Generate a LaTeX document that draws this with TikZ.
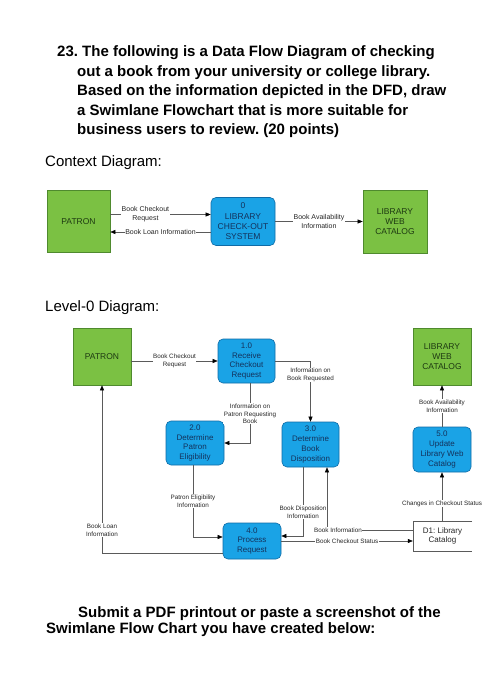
\documentclass[tikz,border=0pt]{standalone}
\usepackage{fontspec}
\setmainfont{Liberation Sans}
\usetikzlibrary{arrows.meta}
\definecolor{extgreen}{HTML}{7BC143}
\definecolor{extborder}{HTML}{4F8A2E}
\definecolor{procblue}{HTML}{1AA3E6}
\definecolor{procborder}{HTML}{0F6BA6}
\definecolor{proctext}{HTML}{14325C}
\definecolor{exttext}{HTML}{1E3A12}
\definecolor{linegray}{HTML}{5A5A5A}
\tikzset{
  ext/.style={draw=extborder, fill=extgreen, line width=0.6pt, text=exttext, align=center, inner sep=0pt},
  proc/.style={draw=procborder, fill=procblue, line width=0.6pt, rounded corners=5pt, text=proctext, align=center, inner sep=0pt},
  cfont/.style={font=\fontsize{8.5}{10.3}\selectfont},
  lfont/.style={font=\fontsize{8}{9.8}\selectfont},
  flow/.style={draw=linegray, line width=0.5pt, -{Triangle[length=5pt,width=4pt,color=black]}},
  lbl/.style={fill=white, inner sep=0.6pt, align=center, text=black!85, font=\fontsize{6.3}{7.7}\selectfont},
  clbl/.style={fill=white, inner sep=0.6pt, align=center, text=black!85, font=\fontsize{7}{9}\selectfont},
  ttl/.style={anchor=base west, inner sep=0pt, font=\fontsize{15}{19.5}\selectfont\bfseries},
  hdr/.style={anchor=base west, inner sep=0pt, font=\fontsize{15}{19.5}\selectfont}
}
\frenchspacing
\begin{document}
\begin{tikzpicture}[x=1pt,y=-1pt]
\useasboundingbox[fill=white] (0,0) rectangle (498,700);

% title
\node[ttl] (t1) at (57,57) {23. The following is a Data Flow Diagram of checking};
\node[ttl] (t2) at (77,76.5) {out a book from your university or college library.};
\node[ttl] (t3) at (77,96) {Based on the information depicted in the DFD, draw};
\node[ttl] (t4) at (77,115.5) {a Swimlane Flowchart that is more suitable for};
\node[ttl] (t5) at (77,135) {business users to review. (20 points)};

\node[hdr] (h1) at (45,167) {Context Diagram:};
\node[hdr] (h2) at (45,311) {Level-0 Diagram:};

% context diagram
\node[ext, cfont, minimum width=63pt, minimum height=62pt] (cpat) at (78.5,221.5) {PATRON};
\node[proc, cfont, minimum width=64pt, minimum height=48pt] (cproc) at (243,221.5) {0\\LIBRARY\\CHECK-OUT\\SYSTEM};
\node[ext, cfont, minimum width=64pt, minimum height=63pt] (cweb) at (395,221.5) {LIBRARY\\WEB\\CATALOG};

\draw[flow] ([yshift=7pt]cpat.east) -- node[clbl, pos=0.35] {Book Checkout\\Request} ([yshift=7pt]cproc.west);
\draw[flow] ([yshift=-10.5pt]cproc.west) -- node[clbl] {Book Loan Information} ([yshift=-10.5pt]cpat.east);
\draw[flow] (cproc.east) -- node[clbl] {Book Availability\\Information} (cweb.west);

% level-0 diagram
\node[ext, cfont, minimum width=58pt, minimum height=57pt] (pat0) at (102,356.5) {PATRON};
\node[ext, cfont, minimum width=58pt, minimum height=57pt] (web0) at (442,356.5) {LIBRARY\\WEB\\CATALOG};
\node[proc, lfont, minimum width=57pt, minimum height=44pt] (p1) at (246.5,361) {1.0\\Receive\\Checkout\\Request};
\node[proc, lfont, minimum width=58pt, minimum height=44pt] (p2) at (195,443) {2.0\\Determine\\Patron\\Eligibility};
\node[proc, lfont, minimum width=57pt, minimum height=45pt] (p3) at (310.5,444.5) {3.0\\Determine\\Book\\Disposition};
\node[proc, lfont, minimum width=58pt, minimum height=36pt] (p4) at (252,541) {4.0\\Process\\Request};
\node[proc, lfont, minimum width=58pt, minimum height=45pt] (p5) at (442,449.5) {5.0\\Update\\Library Web\\Catalog};
\node[lfont, align=center, minimum width=59pt, minimum height=30pt, inner sep=0pt, text=black!85] (d1) at (442.5,536) {D1: Library\\Catalog};
\draw[linegray, line width=0.5pt] (d1.north east) -- (d1.north west) -- (d1.south west) -- (d1.south east);

\draw[flow] (pat0.east |- p1.west) -- node[lbl] {Book Checkout\\Request} (p1.west);
\draw[flow] ([xshift=3.5pt]p1.south) |- node[lbl, pos=0.255] {Information on\\Patron Requesting\\Book} (p2.east);
\draw[flow] (p1.east) -| node[lbl, pos=0.615] {Information on\\Book Requested} (p3.north);
\draw[flow] ([xshift=-2pt]p2.south) |- node[lbl, pos=0.25] {Patron Eligibility\\Information} ([yshift=4pt]p4.west);
\draw[flow] ([yshift=-12pt]p4.west) -| node[lbl, pos=0.568] {Book Loan\\Information} (pat0.south);
\draw[flow] ([xshift=-7.5pt]p3.south) |- node[lbl, pos=0.326] {Book Disposition\\Information} ([yshift=5pt]p4.east);
\draw[flow] ([yshift=6pt]d1.west) -| node[lbl, pos=0.436] {Book Information} ([xshift=16.5pt]p3.south);
\draw[flow] (p4.east) -- node[lbl] {Book Checkout Status} (d1.west |- p4.east);
\draw[flow] (p5.south |- d1.north) -- node[lbl, pos=0.35] {Changes in Checkout Status} (p5.south);
\draw[flow] (p5.north) -- node[lbl] {Book Availability\\Information} (web0.south);

% bottom text
\node[ttl] (b1) at (78,617) {Submit a PDF printout or paste a screenshot of the};
\node[ttl] (b2) at (46,633.5) {Swimlane Flow Chart you have created below:};
\end{tikzpicture}
\end{document}
